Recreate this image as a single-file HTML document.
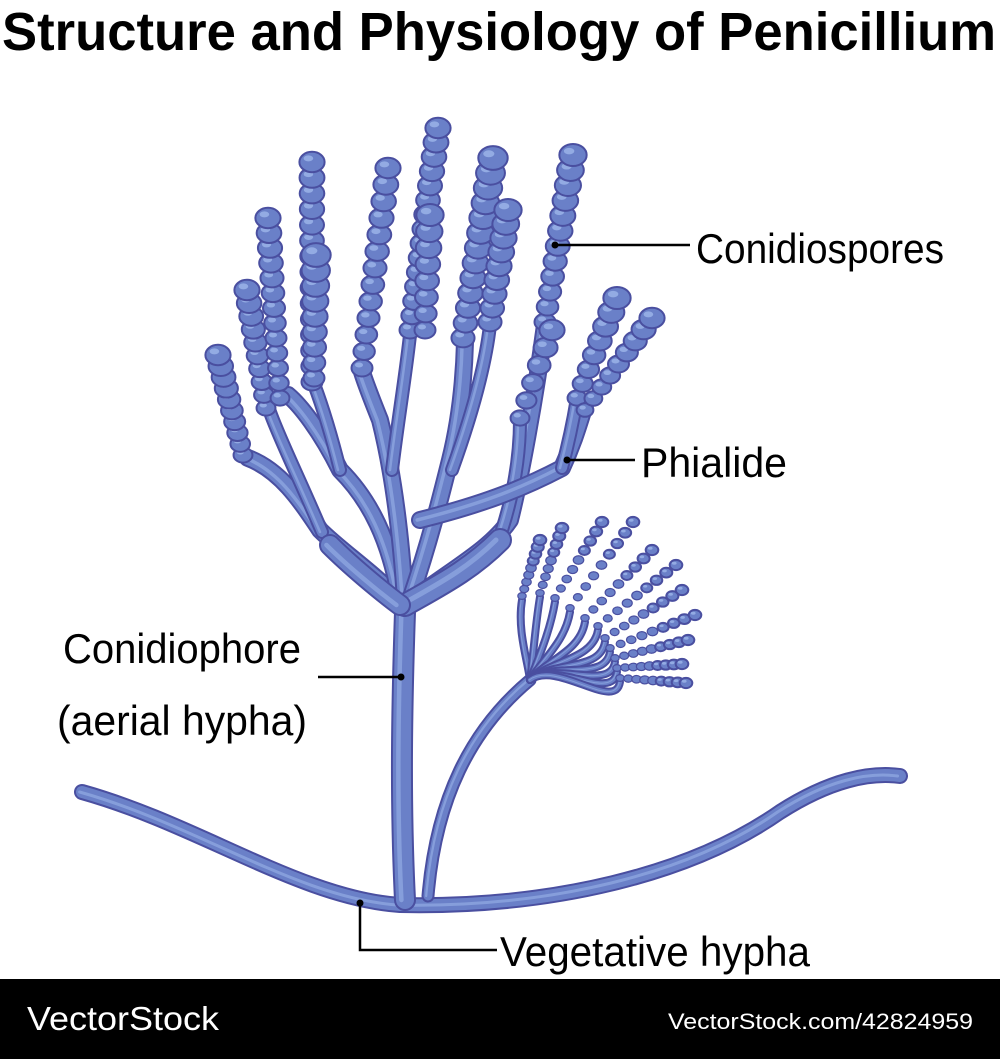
<!DOCTYPE html>
<html><head><meta charset="utf-8">
<style>
html,body{margin:0;padding:0;background:#fff;}
body{width:1000px;height:1059px;overflow:hidden;position:relative;font-family:"Liberation Sans Narrow","Liberation Sans",sans-serif;}
svg{position:absolute;left:0;top:0;}
</style></head>
<body>
<svg id="s" width="1000" height="1059" viewBox="0 0 1000 1059" xmlns="http://www.w3.org/2000/svg">
<text x="2" y="50" font-family="Liberation Sans Narrow, Liberation Sans, sans-serif" font-weight="bold" font-size="54" textLength="994" lengthAdjust="spacingAndGlyphs" fill="#000">Structure and Physiology of Penicillium</text>
<g id="fung" fill="none" stroke-linecap="round" stroke-linejoin="round"></g>
<g stroke="#000" stroke-width="2.5" fill="none">
<line x1="555" y1="245" x2="690" y2="245"/>
<line x1="567" y1="460" x2="635" y2="460"/>
<line x1="318" y1="677" x2="401" y2="677"/>
<polyline points="360,903 360,950 497,950"/>
</g>
<g fill="#000">
<circle cx="555" cy="245" r="3.5"/><circle cx="567" cy="460" r="3.5"/><circle cx="401" cy="677" r="3.5"/><circle cx="360" cy="903" r="3.5"/>
</g>
<g font-family="Liberation Sans Narrow, Liberation Sans, sans-serif" font-size="42" fill="#000">
<text x="696" y="263" textLength="248" lengthAdjust="spacingAndGlyphs">Conidiospores</text>
<text x="641" y="477" textLength="146" lengthAdjust="spacingAndGlyphs">Phialide</text>
<text x="63" y="663" textLength="238" lengthAdjust="spacingAndGlyphs">Conidiophore</text>
<text x="57" y="735" textLength="250" lengthAdjust="spacingAndGlyphs">(aerial hypha)</text>
<text x="500" y="966" textLength="310" lengthAdjust="spacingAndGlyphs">Vegetative hypha</text>
</g>
<rect x="0" y="979" width="1000" height="80" fill="#000"/>
<text x="27" y="1030" font-family="Liberation Sans, sans-serif" font-size="33" fill="#fff" textLength="192" lengthAdjust="spacingAndGlyphs">VectorStock</text>
<text x="668" y="1029" font-family="Liberation Sans, sans-serif" font-size="22" fill="#fff" textLength="305" lengthAdjust="spacingAndGlyphs">VectorStock.com/42824959</text>
</svg>
<script>
var NS="http://www.w3.org/2000/svg",g=document.getElementById("fung");
var OUT="#4a4fa0",FILL="#6a80c8",HI="#93abe3";
function path(d,w){
 [[OUT,w+4],[FILL,w],[HI,Math.max(1,w*0.25)]].forEach(function(p,i){
  var e=document.createElementNS(NS,"path");e.setAttribute("d",d);e.setAttribute("stroke",p[0]);e.setAttribute("stroke-width",p[1]);
  if(i==2){e.setAttribute("opacity","0.7");e.setAttribute("transform","translate(-"+(w*0.2)+",0)");}
  g.appendChild(e);});
}
function chain(x1,y1,x2,y2,rTop,rBot,n){
 for(var i=n-1;i>=0;i--){var t=i/(n-1),x=x1+(x2-x1)*t,y=y1+(y2-y1)*t,r=rTop+(rBot-rTop)*t;
  var e=document.createElementNS(NS,"ellipse");e.setAttribute("cx",x);e.setAttribute("cy",y);e.setAttribute("rx",r*1.05);e.setAttribute("ry",r*0.85);
  e.setAttribute("fill",FILL);e.setAttribute("stroke",OUT);e.setAttribute("stroke-width",r>5?2:1.2);g.appendChild(e);
  if(r>5){var h=document.createElementNS(NS,"ellipse");h.setAttribute("cx",x-r*0.3);h.setAttribute("cy",y-r*0.3);h.setAttribute("rx",r*0.4);h.setAttribute("ry",r*0.25);h.setAttribute("fill",HI);g.appendChild(h);}
 }
}
// vegetative hypha
path("M82,792 C200,825 300,898 400,905 C550,908 690,875 780,812 C830,780 870,772 900,776",12);
// secondary stalk
path("M428,896 C436,800 470,730 530,680",9);
// small head
var small=[[522,600,540,540],[540,597,562,528],[555,602,602,522],[570,612,633,522],[585,622,652,550],[598,630,676,565],[605,642,682,590],[610,652,695,615],[615,662,688,640],[617,672,682,664],[620,682,686,683]];
small.forEach(function(c){path("M530,680 C"+(530+(c[0]-530)*0.3)+",660 "+(c[0]-5)+","+(c[1]+30)+" "+c[0]+","+c[1],4);});
small.forEach(function(c){chain(c[2],c[3],c[0],c[1]-4,6,4,9);});
// main stalk
path("M405,900 C400,800 402,700 405,612",18);
// big head branches
var B=[
"M400,600 C370,570 340,550 320,530 C300,500 280,470 248,458",
"M322,532 C300,480 280,440 270,412",
"M400,600 C390,540 370,500 340,470 C320,430 300,405 288,395",
"M340,470 C330,430 320,400 314,384",
"M405,600 C400,520 390,460 380,420 C372,400 366,385 362,372",
"M392,470 C398,420 405,380 410,335",
"M410,600 C430,540 440,500 450,460 C460,420 464,380 465,342",
"M452,470 C470,420 485,370 490,325",
"M405,605 C450,570 490,550 510,520 C520,480 535,400 545,325",
"M502,530 C518,480 520,440 520,420",
"M420,520 C480,505 520,490 562,468 C575,440 580,420 585,405",
"M562,468 C572,430 575,410 577,398"];
B.forEach(function(d,i){path(d,i%2==0?14:10);});
path("M405,605 C440,585 470,570 500,540",20);
path("M400,605 C380,590 350,565 330,545",18);
var C=[[218,355,243,455,12,9,10],[247,290,266,408,12,9,10],[268,218,280,398,12,9,13],[312,162,312,382,12,10,15],[316,255,314,378,14,10,9],[388,168,362,368,12,10,13],[438,128,410,330,12,10,15],[493,158,463,338,14,11,13],[508,210,490,322,13,11,9],[573,155,545,322,13,10,12],[617,298,577,398,13,9,8],[652,318,585,410,12,8,9],[552,330,520,418,12,9,6],[430,215,425,330,13,10,8]];
C.forEach(function(c){chain(c[0],c[1],c[2],c[3],c[4],c[5],c[6]);});
</script>
</body></html>
